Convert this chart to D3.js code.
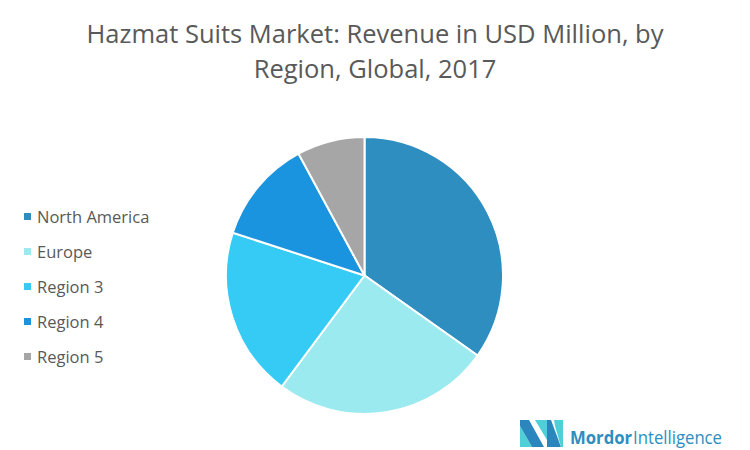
<!DOCTYPE html>
<html><head><meta charset="utf-8">
<script src="https://cdn.jsdelivr.net/npm/d3@7"></script>
<style>body{margin:0;background:#fff}svg{display:block}</style>
</head><body>
<svg id="c" width="750" height="450"></svg>
<script>
const categories = ["North America","Europe","Region 3","Region 4","Region 5"];
const values = [34.8, 25.4, 19.8, 12.1, 7.9];
const colors = ["#2E8EC0","#9BEAF0","#35CBF5","#1B94E0","#A6A6A6"];
const titleLines = ["Hazmat Suits Market: Revenue in USD Million, by","Region, Global, 2017"];

const svg = d3.select("#c");
const font = "'Open Sans', 'Liberation Sans', sans-serif";

svg.selectAll("text.title").data(titleLines).enter().append("text")
  .attr("x", 375).attr("y", (d,i)=>43+i*35)
  .attr("text-anchor","middle").attr("font-family",font)
  .attr("font-size",25.5).attr("fill","#595959").text(d=>d);

const cx=364.5, cy=275.5, r=138.5;
const pie = d3.pie().sort(null).value(d=>d);
const arc = d3.arc().innerRadius(0).outerRadius(r);
const color = d3.scaleOrdinal().domain(categories).range(colors);
svg.append("g").attr("transform",`translate(${cx},${cy})`)
  .selectAll("path").data(pie(values)).enter().append("path")
  .attr("d",arc).attr("fill",(d,i)=>color(categories[i]))
  .attr("stroke","#fff").attr("stroke-width",2);

const lg = svg.append("g");
const rowY = d3.scalePoint().domain(categories).range([217,357]);
const items = lg.selectAll("g").data(categories).enter().append("g")
  .attr("transform",d=>`translate(24,${rowY(d)})`);
items.append("rect").attr("x",0).attr("y",-4).attr("width",7).attr("height",7).attr("fill",d=>color(d));
items.append("text").attr("x",13).attr("y",0).attr("dy","0.35em")
  .attr("font-family",font).attr("font-size",16.5).attr("fill","#595959").text(d=>d);

// logo
const logo = svg.append("g").attr("transform","translate(520,420)");
const dark="#2B86BE", cyan="#4FD0D6";
logo.append("polygon").attr("points","0,6 0,27 12,27").attr("fill",cyan);
logo.append("polygon").attr("points","0,0 9,0 24,27 12,27 0,6").attr("fill",dark);
logo.append("polygon").attr("points","15,0 27,0 27,20").attr("fill",cyan);
logo.append("polygon").attr("points","27,0 31,0 41,27 27,27").attr("fill",dark);
logo.append("polygon").attr("points","34,0 43,0 43,27 41,27 35,6").attr("fill",cyan);
const lt = logo.append("text").attr("x",50).attr("y",24).attr("font-family",font).attr("font-size",18).attr("fill","#2E8EC0")
  .attr("textLength",152).attr("lengthAdjust","spacingAndGlyphs");
lt.append("tspan").attr("font-weight","bold").text("Mordor");
lt.append("tspan").attr("dx",1).text("Intelligence");
</script>
</body></html>
